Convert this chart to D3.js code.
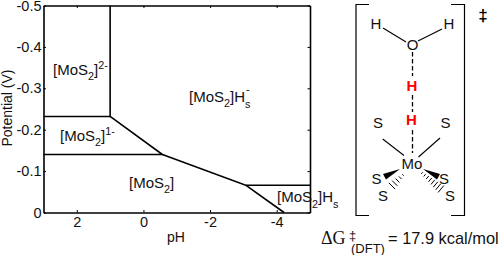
<!DOCTYPE html>
<html>
<head>
<meta charset="utf-8">
<script src="https://cdn.jsdelivr.net/npm/d3@7"></script>
<style>
  html, body { margin: 0; padding: 0; background: #fff; }
  svg { display: block; font-family: "Liberation Sans", Arial, sans-serif; }
</style>
</head>
<body>
<svg id="chart" width="500" height="255"></svg>
<script>
// pH, potential pairs
const xTicks = [2, 0, -2, -4];
const yTicks = [-0.5, -0.4, -0.3, -0.2, -0.1, 0];
const boundary2minus = [[1, -0.5], [1, -0.232], [3, -0.232]];
const boundary1minus = [[1, -0.232], [-0.57, -0.14], [3, -0.14]];
const boundaryNeutral = [[-0.57, -0.14], [-3.07, -0.066], [-5, -0.066]];
const boundaryHs = [[-3.07, -0.066], [-4.22, 0]];

const svg = d3.select("#chart");
const x = d3.scaleLinear().domain([3, -5]).range([43.5, 310]);
const y = d3.scaleLinear().domain([-0.5, 0]).range([5.5, 212.5]);

function styleAxis(g, showLabels) {
  g.select(".domain").attr("stroke", "#000").attr("stroke-width", 1.6);
  g.selectAll(".tick line").attr("stroke", "#000").attr("stroke-width", 1);
  g.selectAll("text")
    .attr("fill", "#111")
    .style("font-size", "14.5px")
    .style("font-family", '"Liberation Sans", Arial, sans-serif')
    .style("display", showLabels ? null : "none");
}

svg.append("g").attr("transform", "translate(0,212.5)")
  .call(d3.axisBottom(x).tickValues(xTicks).tickSize(-2.5).tickSizeOuter(0).tickPadding(4).tickFormat(String))
  .call(styleAxis, true);
svg.append("g").attr("transform", "translate(0,5.5)")
  .call(d3.axisTop(x).tickValues(xTicks).tickSize(-2.5).tickSizeOuter(0))
  .call(styleAxis, false);
svg.append("g").attr("transform", "translate(43.5,0)")
  .call(d3.axisLeft(y).tickValues(yTicks).tickSize(-2.5).tickSizeOuter(0).tickPadding(2).tickFormat(d => d === 0 ? "0" : d.toFixed(1)))
  .call(styleAxis, true);
svg.append("g").attr("transform", "translate(310,0)")
  .call(d3.axisRight(y).tickValues(yTicks).tickSize(-2.5).tickSizeOuter(0))
  .call(styleAxis, false);

const line = d3.line().x(d => x(d[0])).y(d => y(d[1]));
[boundary2minus, boundary1minus, boundaryNeutral, boundaryHs].forEach(b => {
  svg.append("path").attr("d", line(b)).attr("fill", "none")
    .attr("stroke", "#000").attr("stroke-width", 1.6);
});

// text with sub/superscript runs: [string, baseline shift]
function label(px, py, runs, size) {
  const t = svg.append("text").attr("x", px).attr("y", py)
    .attr("font-size", size).attr("fill", "#111");
  let prev = 0;
  runs.forEach(([s, shift]) => {
    const span = t.append("tspan").text(s).attr("dy", shift - prev);
    if (shift !== 0) span.attr("font-size", size * 0.72);
    prev = shift;
  });
  return t;
}

label(53, 75, [["[MoS", 0], ["2", 5], ["]", 0], ["2-", -6]], 15);
label(60, 141, [["[MoS", 0], ["2", 5], ["]", 0], ["1-", -6]], 15);
label(129, 188, [["[MoS", 0], ["2", 5], ["]", 0]], 15);
label(189, 102, [["[MoS", 0], ["2", 5], ["]H", 0], ["s", 6]], 15);
label(246, 93, [["-", 0]], 11);
label(277, 202, [["[MoS", 0], ["2", 6], ["]H", 0], ["s", 6]], 15);

svg.append("text").attr("x", 176).attr("y", 242).attr("text-anchor", "middle")
  .attr("font-size", 14).attr("fill", "#111").text("pH");
svg.append("text").attr("transform", "translate(12,108) rotate(-90)").attr("text-anchor", "middle")
  .attr("font-size", 14).attr("fill", "#111").text("Potential (V)");

// transition state sketch, screen coordinates
const sketch = svg.append("g").attr("stroke", "#000").attr("fill", "none");
sketch.append("path").attr("d", "M369,4.5H356V215.5H369").attr("stroke-width", 1.2);
sketch.append("path").attr("d", "M451,4.5H464.5V215.5H451").attr("stroke-width", 1.2);

[[383, 28, 406, 42], [442, 29, 418, 41], [382.7, 139, 404, 155.5], [440, 138, 418.5, 157]].forEach(b => {
  sketch.append("line").attr("x1", b[0]).attr("y1", b[1]).attr("x2", b[2]).attr("y2", b[3]).attr("stroke-width", 1.1);
});
[[52, 76], [95, 112], [130, 153]].forEach(d => {
  sketch.append("line").attr("x1", 412.5).attr("x2", 412.5).attr("y1", d[0]).attr("y2", d[1])
    .attr("stroke-width", 1.3).attr("stroke-dasharray", "4.5 2.5");
});

svg.append("path").attr("d", "M400,169L383,174L386,179.5Z").attr("fill", "#000");
svg.append("path").attr("d", "M423,169L440,174L437,179.5Z").attr("fill", "#000");

// hashed wedges as short ticks growing away from Mo
const hashes = [[403, 175, 392, 186, 5], [422, 173, 441, 189, 8]];
hashes.forEach(([x0, y0, x1, y1, steps]) => {
  d3.range(steps).forEach(i => {
    const f = i / (steps - 1);
    const cx = x0 + (x1 - x0) * f, cy = y0 + (y1 - y0) * f;
    const half = 1 + f * 3.5;
    const len = Math.hypot(x1 - x0, y1 - y0);
    const nx = -(y1 - y0) / len, ny = (x1 - x0) / len;
    svg.append("line").attr("stroke", "#000").attr("stroke-width", 1)
      .attr("x1", cx - nx * half).attr("y1", cy - ny * half)
      .attr("x2", cx + nx * half).attr("y2", cy + ny * half);
  });
});

const atoms = [
  ["H", 376, 28.5, "#111", "normal"], ["H", 449, 28.5, "#111", "normal"], ["O", 412.5, 49.5, "#111", "normal"],
  ["H", 412, 91, "#f00", "bold"], ["H", 411.5, 125, "#f00", "bold"],
  ["S", 378, 128, "#111", "normal"], ["S", 445.5, 128, "#111", "normal"],
  ["Mo", 412, 168.5, "#111", "normal"],
  ["S", 376.5, 183.5, "#111", "normal"], ["S", 383, 200.5, "#111", "normal"],
  ["S", 444, 183.5, "#111", "normal"], ["S", 450, 200.5, "#111", "normal"]
];
atoms.forEach(([s, ax, ay, c, w]) => {
  svg.append("text").attr("x", ax).attr("y", ay).attr("text-anchor", "middle")
    .attr("font-size", 15).attr("font-weight", w).attr("fill", c).text(s);
});

svg.append("text").attr("x", 483).attr("y", 21).attr("text-anchor", "middle")
  .attr("font-size", 17).attr("font-weight", "bold").attr("fill", "#000").text("\u2021");

svg.append("text").attr("x", 321).attr("y", 244).attr("font-size", 18).attr("fill", "#111")
  .attr("font-family", "Liberation Serif").text("\u0394G");
svg.append("text").attr("x", 349).attr("y", 240).attr("font-size", 13).attr("fill", "#111").text("\u2021");
svg.append("text").attr("x", 351).attr("y", 253).attr("font-size", 13).attr("fill", "#111").text("(DFT)");
svg.append("text").attr("x", 388).attr("y", 244).attr("font-size", 16.4).attr("fill", "#111").text("= 17.9 kcal/mol");
</script>
</body>
</html>
